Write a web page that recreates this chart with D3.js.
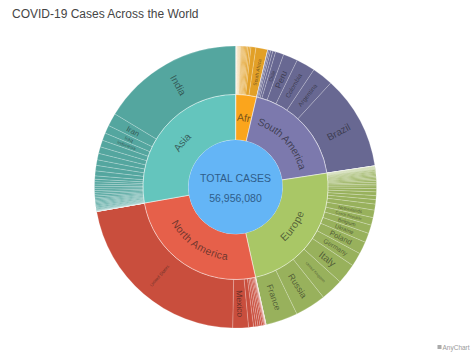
<!DOCTYPE html>
<html><head><meta charset="utf-8">
<script src="https://cdn.jsdelivr.net/npm/d3@7"></script>
<style>
html,body{margin:0;padding:0;background:#fff;}
svg{display:block;font-family:"Liberation Sans",Arial,sans-serif;}
</style></head><body>
<div id="chart"></div>
<script>
// ---------- DATA ----------
const chartTitle = "COVID-19 Cases Across the World";
const centerLabel = "TOTAL CASES";
const continents = ["Oceania", "Africa", "South America", "Europe", "North America", "Asia"];

const oceaniaCountries = ["Australia", "French Polynesia", "New Zealand", "Papua New Guinea", "Fiji", "New Caledonia"];
const oceaniaCases = [27800, 13000, 2020, 600, 35, 30];

const africaCountries = ["South Africa", "Morocco", "Egypt", "Ethiopia", "Tunisia", "Libya", "Algeria", "Kenya", "Nigeria", "Ghana",
  "Cameroon", "Côte d'Ivoire", "Uganda", "Madagascar", "Zambia", "Senegal", "Mozambique", "Sudan", "Namibia", "Angola",
  "Guinea", "DR Congo", "Cabo Verde", "Gabon", "Zimbabwe", "Mauritania", "Botswana", "Malawi", "Eswatini", "Djibouti",
  "Rwanda", "Congo", "Equatorial Guinea", "Central African Republic", "Somalia", "Mali", "Gambia", "South Sudan", "Benin", "Burkina Faso",
  "Togo", "Sierra Leone", "Guinea-Bissau", "Lesotho", "Chad", "Liberia", "Niger"];
const africaCases = [767000, 320000, 112500, 105000, 87000, 78000, 72000, 74000, 66000, 51000,
  23500, 21000, 17500, 17300, 17400, 16000, 15000, 15500, 14000, 14000,
  13000, 12500, 10000, 9000, 9000, 8000, 8000, 6000, 6000, 5700,
  5700, 5400, 5100, 4900, 4300, 4000, 3700, 3000, 2800, 2700,
  2700, 2400, 2400, 2000, 1600, 1500, 1300];

const southAmericaCountries = ["Brazil", "Argentina", "Colombia", "Peru", "Chile", "Ecuador", "Bolivia", "Venezuela", "Paraguay",
  "French Guiana", "Suriname", "Guyana", "Uruguay"];
const southAmericaCases = [6150000, 1375000, 1240000, 945000, 540000, 185000, 144000, 98000, 80000, 10600, 5300, 5100, 4100];

const europeCountries = ["France", "Russia", "United Kingdom", "Italy", "Germany", "Poland", "Ukraine", "Belgium", "Czech Republic", "Netherlands",
  "Romania", "Switzerland", "Portugal", "Austria", "Sweden", "Hungary", "Belarus", "Serbia", "Bulgaria", "Croatia",
  "Slovakia", "Moldova", "Greece", "Bosnia and Herzegovina", "Ireland", "Denmark", "Slovenia", "North Macedonia", "Lithuania", "Norway",
  "Albania", "Luxembourg", "Montenegro", "Kosovo", "Finland", "Latvia", "Malta", "Estonia", "Andorra", "Iceland",
  "San Marino", "Liechtenstein", "Gibraltar", "Monaco"];
const europeCases = [2100000, 2020000, 1460000, 1330000, 890000, 810000, 610000, 555000, 495000, 485000,
  395000, 295000, 255000, 245000, 210000, 170000, 120000, 115000, 112000, 96000,
  95000, 90000, 82000, 76000, 70000, 70000, 60000, 55000, 45000, 32000,
  31000, 30000, 30000, 30000, 21000, 10000, 9000, 8000, 6000, 5300,
  1500, 1200, 800, 500];

const northAmericaCountries = ["United States", "Mexico", "Canada", "Panama", "Dominican Republic", "Costa Rica", "Guatemala", "Honduras",
  "Puerto Rico", "El Salvador", "Jamaica", "Haiti", "Guadeloupe", "Cuba", "Bahamas", "Trinidad and Tobago", "Martinique",
  "Nicaragua", "Belize", "Aruba", "Curaçao", "Sint Maarten"];
const northAmericaCases = [12471675, 1025000, 325000, 153000, 134000, 131000, 119000, 103000,
  65000, 37000, 10000, 9200, 8200, 7600, 7300, 6300, 5400,
  5000, 5000, 4900, 1100, 900];

const asiaCountries = ["India", "Iran", "Iraq", "Indonesia", "Bangladesh", "Turkey", "Philippines", "Pakistan", "Saudi Arabia", "Israel",
  "Nepal", "Jordan", "United Arab Emirates", "Kuwait", "Qatar", "Kazakhstan", "Japan", "Oman", "Armenia", "Lebanon",
  "China", "Bahrain", "Georgia", "Azerbaijan", "Palestine", "Myanmar", "Kyrgyzstan", "Uzbekistan", "Singapore", "Malaysia",
  "Afghanistan", "South Korea", "Sri Lanka", "Maldives", "Tajikistan", "Syria", "Hong Kong", "Thailand", "Yemen", "Vietnam",
  "Mongolia", "Bhutan", "Cambodia", "Brunei"];
const asiaCases = [9300000, 850000, 535000, 488000, 445000, 435000, 415000, 370000, 355000, 325000,
  216000, 160000, 152000, 141000, 136000, 135000, 125000, 122000, 120000, 112000,
  86400, 85000, 85000, 82000, 80000, 76000, 71000, 71000, 58000, 53000,
  44000, 30000, 19000, 12000, 11500, 7300, 5500, 3900, 2100, 1300,
  400, 370, 300, 150];

// ---------- STYLE ----------
const W = 474, H = 355;
const cx = 235.5, cy = 187;
const innerColors = {"Oceania":"#d9c9a3","Africa":"#fba51c","South America":"#7c79ad","Europe":"#a9c766","North America":"#e6604a","Asia":"#64c5bd"};
const outerColors = {"Oceania":"#cdbb90","Africa":"#e2a027","South America":"#686892","Europe":"#98b15c","North America":"#c94e3d","Asia":"#54a69f"};

const countryLists = [oceaniaCountries, africaCountries, southAmericaCountries, europeCountries, northAmericaCountries, asiaCountries];
const caseLists = [oceaniaCases, africaCases, southAmericaCases, europeCases, northAmericaCases, asiaCases];

const rootData = {
  name: centerLabel,
  children: continents.map((c, i) => ({
    name: c,
    children: countryLists[i].map((n, j) => ({name: n, value: caseLists[i][j]}))
  }))
};

const root = d3.hierarchy(rootData).sum(d => d.value || 0).sort((a, b) => a.value - b.value);
d3.partition().size([2 * Math.PI, 3])(root);

const radius = d3.scaleLinear().domain([0, 1, 2, 3]).range([0, 47, 92.5, 141]);
const arc = d3.arc()
  .startAngle(d => d.x0).endAngle(d => d.x1)
  .innerRadius(d => radius(d.y0)).outerRadius(d => radius(d.y1));

const svg = d3.select("#chart").append("svg").attr("width", W).attr("height", H);

svg.append("text").attr("x", 12).attr("y", 17.5)
  .attr("font-size", 12).attr("fill", "#454545").text(chartTitle);

const g = svg.append("g").attr("transform", `translate(${cx},${cy})`);

const contOf = d => d.depth === 0 ? null : (d.depth === 1 ? d.data.name : d.parent.data.name);

// arcs
g.selectAll("path.leaf").data(root.descendants().filter(d => d.depth === 2)).join("path")
  .attr("class", "leaf").attr("d", arc)
  .attr("fill", d => outerColors[contOf(d)])
  .attr("stroke", "#fff").attr("stroke-width", 0.4).attr("stroke-opacity", 0.5);

g.selectAll("path.cont").data(root.children).join("path")
  .attr("class", "cont").attr("d", arc)
  .attr("fill", d => innerColors[d.data.name])
  .attr("stroke", "#fff").attr("stroke-width", 0.8).attr("stroke-opacity", 0.6);

g.append("path").datum(root).attr("d", arc).attr("fill", "#64b5f6");

// center labels
g.append("text").attr("x", 0).attr("y", -8.5).attr("text-anchor", "middle").attr("dy", "0.35em")
  .attr("font-size", 10.5).attr("fill", "#2f5d8a").text(root.data.name);
g.append("text").attr("x", 0).attr("y", 11).attr("text-anchor", "middle").attr("dy", "0.35em")
  .attr("font-size", 10.5).attr("fill", "#2f5d8a").text(d3.format(",")(root.value));

// inner ring labels on arcs
const defs = svg.append("defs");
root.children.forEach((d, i) => {
  const r = (radius(d.y0) + radius(d.y1)) / 2;
  const m = (d.x0 + d.x1) / 2;
  const p = d3.path();
  if (m > Math.PI / 2 && m < 3 * Math.PI / 2) p.arc(0, 0, r, d.x1 - Math.PI / 2, d.x0 - Math.PI / 2, true);
  else p.arc(0, 0, r, d.x0 - Math.PI / 2, d.x1 - Math.PI / 2, false);
  const id = "cp" + i;
  defs.append("path").attr("id", id).attr("d", p.toString());
  const arcLen = (d.x1 - d.x0) * r;
  const t = g.append("text").attr("font-size", 10.5).attr("fill", "#1a1a1a").attr("fill-opacity", 0.62).attr("dy", "0.35em");
  const tp = t.append("textPath").attr("href", "#" + id).attr("startOffset", "50%").attr("text-anchor", "middle");
  let s = d.data.name;
  tp.text(s);
  while (s.length > 0 && t.node().getComputedTextLength() > arcLen - 2) {
    s = s.slice(0, -1);
    tp.text(s);
  }
  if (!s.length) t.remove();
});

// outer ring labels (radial)
root.leaves().forEach(d => {
  const r = (radius(d.y0) + radius(d.y1)) / 2;
  const arcW = (d.x1 - d.x0) * r;
  if (arcW < 6) return;
  const m = (d.x0 + d.x1) / 2 * 180 / Math.PI;
  const t = g.append("text").attr("font-size", 10).attr("text-anchor", "middle").attr("dy", "0.35em")
    .attr("fill", "#1a1a1a").attr("fill-opacity", 0.58).text(d.data.name);
  const w10 = t.node().getComputedTextLength();
  const fs = Math.min(10, 27 * 10 / w10, arcW * 0.72);
  t.attr("font-size", fs)
   .attr("transform", `rotate(${m - 90}) translate(${r},0) rotate(${m < 180 ? 0 : 180})`);
});

// credit
svg.append("rect").attr("x", 437.5).attr("y", 345).attr("width", 4).attr("height", 4).attr("fill", "#aaa");
svg.append("text").attr("x", 442.5).attr("y", 350).attr("font-size", 6.5).attr("fill", "#999").text("AnyChart");
</script>
</body></html>
